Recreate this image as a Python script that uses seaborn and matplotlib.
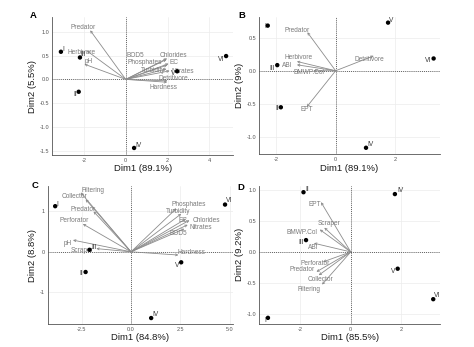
import numpy as np
import pandas as pd
import matplotlib
matplotlib.use("Agg")
import matplotlib.pyplot as plt
import seaborn as sns

sns.set_theme(style="whitegrid")
plt.rcParams['font.family'] = ['Liberation Sans', 'DejaVu Sans']

# ---- data: site scores and variable loadings per panel ----
sites = ["I", "II", "III", "IV", "V", "VI"]

a_site_x = [-3.10, -2.25, -2.19, 0.40, 2.46, 4.80]
a_site_y = [0.58, -0.26, 0.46, -1.44, 0.17, 0.49]
a_vars = ["Predator", "Herbivore", "pH", "BOD5", "Chlorides", "Phosphates", "EC",
          "Turbidity", "Nitrates", "Detritivore", "Hardness"]
a_var_x = [-1.70, -1.86, -1.98, 1.95, 1.98, 1.98, 2.05, 1.95, 2.10, 2.00, 1.98]
a_var_y = [1.03, 0.60, 0.32, 0.42, 0.44, 0.30, 0.33, 0.22, 0.18, -0.03, -0.06]

b_site_x = [-2.28, -1.84, -1.96, 1.02, 1.76, 3.29]
b_site_y = [0.68, -0.55, 0.085, -1.16, 0.725, 0.185]
b_vars = ["Predator", "Herbivore", "ABI", "BMWP.Col", "EPT", "Detritivore"]
b_var_x = [-0.95, -1.30, -1.30, -0.75, -0.97, 1.28]
b_var_y = [0.58, 0.14, 0.09, 0.00, -0.545, 0.225]

c_site_x = [-3.84, -2.30, -2.10, 1.02, 2.54, 4.76]
c_site_y = [1.13, -0.50, 0.05, -1.64, -0.26, 1.17]
c_vars = ["Filtering", "Collector", "Predator", "Perforator", "pH", "Scraper",
          "Phosphates", "Turbidity", "EC", "Chlorides", "Nitrates", "BOD5", "Hardness"]
c_var_x = [-2.55, -2.30, -1.90, -2.44, -2.94, -1.76, 2.29, 2.54, 2.79, 2.96, 2.87, 2.70, 2.40]
c_var_y = [1.47, 1.30, 1.00, 0.69, 0.29, 0.08, 1.07, 0.94, 0.82, 0.78, 0.67, 0.57, -0.08]

d_site_x = [-3.26, -1.86, -1.76, 1.74, 1.85, 3.25]
d_site_y = [-1.06, 0.96, 0.19, 0.93, -0.27, -0.76]
d_vars = ["EPT", "Scraper", "BMWP.Col", "ABI", "Perforator", "Predator", "Collector", "Filtering"]
d_var_x = [-1.17, -1.04, -1.22, -1.45, -1.09, -1.35, -1.26, -1.13]
d_var_y = [0.80, 0.39, 0.36, 0.14, -0.16, -0.32, -0.375, -0.525]

# label placement (repel-like), data units for variable names, points offsets for sites
a_lab = {"Predator": (-2.06, 1.08), "Herbivore": (-2.12, 0.56), "pH": (-1.79, 0.37),
         "BOD5": (0.48, 0.51), "Chlorides": (2.27, 0.51), "Phosphates": (0.90, 0.35),
         "EC": (2.33, 0.35), "Turbidity": (1.30, 0.18), "Nitrates": (2.75, 0.17),
         "Detritivore": (2.27, 0.01), "Hardness": (1.78, -0.18)}
b_lab = {"Predator": (-1.31, 0.60), "Herbivore": (-1.26, 0.205), "ABI": (-1.61, 0.085),
         "BMWP.Col": (-0.89, -0.025), "EPT": (-0.98, -0.585), "Detritivore": (1.13, 0.165)}
c_lab = {"Filtering": (-1.90, 1.51), "Collector": (-2.85, 1.36), "Predator": (-2.45, 1.06),
         "Perforator": (-2.86, 0.77), "pH": (-3.20, 0.21), "Scraper": (-2.50, 0.04),
         "Phosphates": (2.93, 1.18), "Turbidity": (2.37, 1.00), "EC": (2.62, 0.78),
         "Chlorides": (3.80, 0.78), "Nitrates": (3.55, 0.61), "BOD5": (2.37, 0.45),
         "Hardness": (3.04, -0.01)}
d_lab = {"EPT": (-1.42, 0.76), "Scraper": (-0.87, 0.45), "BMWP.Col": (-1.91, 0.31),
         "ABI": (-1.47, 0.075), "Perforator": (-1.40, -0.19), "Predator": (-1.93, -0.29),
         "Collector": (-1.20, -0.44), "Filtering": (-1.66, -0.60)}

a_off = [(1.9, 1.7), (-2.6, -1.7), (2.6, 2.4), (3.1, 1.9), (-2.9, -1.9), (-3.6, -2.4)]
b_off = [(-1.4, -0.7), (-2.9, -1.0), (-3.6, -2.2), (3.4, 2.2), (2.4, 1.4), (-3.8, -1.7)]
c_off = [(1.4, 1.0), (-3.4, -1.2), (3.4, 1.7), (3.4, 2.2), (-3.1, -2.4), (2.6, 3.1)]
d_off = [(-1.7, -1.7), (2.6, 1.9), (-3.6, -1.7), (3.8, 2.6), (-3.6, -1.7), (3.1, 2.4)]

panels = [
    dict(letter="A", sx=a_site_x, sy=a_site_y, vars=a_vars, vx=a_var_x, vy=a_var_y, lab=a_lab, off=a_off,
         xlab="Dim1 (89.1%)", ylab="Dim2 (5.5%)", xlim=(-3.52, 5.14), ylim=(-1.59, 1.31),
         xt=[-2, 0, 2, 4], yt=[-1.5, -1.0, -0.5, 0.0, 0.5, 1.0], fmt="{:.1f}", xfmt="{:.0f}",
         pos=[0.110, 0.553, 0.382, 0.398], lpos=(33, 16)),
    dict(letter="B", sx=b_site_x, sy=b_site_y, vars=b_vars, vx=b_var_x, vy=b_var_y, lab=b_lab, off=b_off,
         xlab="Dim1 (89.1%)", ylab="Dim2 (9%)", xlim=(-2.58, 3.5), ylim=(-1.26, 0.815),
         xt=[-2, 0, 2], yt=[-1.0, -0.5, 0.0, 0.5], fmt="{:.1f}", xfmt="{:.0f}",
         pos=[0.546, 0.555, 0.382, 0.397], lpos=(242, 15)),
    dict(letter="C", sx=c_site_x, sy=c_site_y, vars=c_vars, vx=c_var_x, vy=c_var_y, lab=c_lab, off=c_off,
         xlab="Dim1 (84.8%)", ylab="Dim2 (8.8%)", xlim=(-4.21, 5.15), ylim=(-1.79, 1.63),
         xt=[-2.5, 0.0, 2.5, 5.0], yt=[-1, 0, 1], fmt="{:.0f}", xfmt="{:.1f}",
         pos=[0.101, 0.066, 0.390, 0.398], lpos=(35, 186)),
    dict(letter="D", sx=d_site_x, sy=d_site_y, vars=d_vars, vx=d_var_x, vy=d_var_y, lab=d_lab, off=d_off,
         xlab="Dim1 (85.5%)", ylab="Dim2 (9.2%)", xlim=(-3.62, 3.53), ylim=(-1.155, 1.06),
         xt=[-2, 0, 2], yt=[-1.0, -0.5, 0.0, 0.5, 1.0], fmt="{:.1f}", xfmt="{:.0f}",
         pos=[0.546, 0.067, 0.383, 0.397], lpos=(241, 187)),
]

W, H = 474, 347
fig = plt.figure(figsize=(W / 100, H / 100), dpi=100)
fig.patch.set_facecolor("white")

var_col = "#8c8c8c"
for p in panels:
    ax = fig.add_axes(p["pos"])
    ax.set_facecolor("white")
    ax.grid(True, color="#ececec", linewidth=0.5)
    ax.axhline(0, color="#333333", linestyle=(0, (1, 1.5)), linewidth=0.6, zorder=1)
    ax.axvline(0, color="#333333", linestyle=(0, (1, 1.5)), linewidth=0.6, zorder=1)

    # variable arrows
    for name, vx, vy in zip(p["vars"], p["vx"], p["vy"]):
        ax.annotate("", xy=(vx, vy), xytext=(0, 0),
                    arrowprops=dict(arrowstyle="->,head_length=0.12,head_width=0.06",
                                    color=var_col, lw=0.6, shrinkA=0, shrinkB=0), zorder=2)
        lx, ly = p["lab"][name]
        ax.text(lx, ly, name, fontsize=4.7, color="#7a7a7a", ha="center", va="center", zorder=3)

    # site scores
    df = pd.DataFrame({"x": p["sx"], "y": p["sy"], "site": sites})
    sns.scatterplot(data=df, x="x", y="y", ax=ax, color="black", s=10, edgecolor="none",
                    legend=False, zorder=4)
    for (sx, sy, s), (dx, dy) in zip(zip(p["sx"], p["sy"], sites), p["off"]):
        ax.annotate(s, (sx, sy), xytext=(dx, dy), textcoords="offset points",
                    fontsize=4.7, color="#333333", ha="center", va="center")

    ax.set_xlim(*p["xlim"])
    ax.set_ylim(*p["ylim"])
    ax.set_xticks(p["xt"])
    ax.set_xticklabels([p["xfmt"].format(v) for v in p["xt"]])
    ax.set_yticks(p["yt"])
    ax.set_yticklabels([p["fmt"].format(v) for v in p["yt"]])
    ax.tick_params(labelsize=4, colors="#555555", length=0, pad=2)
    ax.set_xlabel(p["xlab"], fontsize=6.8, color="#1a1a1a", labelpad=1)
    ax.set_ylabel(p["ylab"], fontsize=6.8, color="#1a1a1a", labelpad=2)
    for side in ["top", "right"]:
        ax.spines[side].set_visible(False)
    for side in ["left", "bottom"]:
        ax.spines[side].set_color("#555555")
        ax.spines[side].set_linewidth(0.6)

    lx, ly = p["lpos"]
    fig.text(lx / W, 1 - ly / H, p["letter"], fontsize=6.8, fontweight="bold",
             ha="center", va="center", color="black")

fig.savefig("out.png", dpi=100, facecolor="white")
